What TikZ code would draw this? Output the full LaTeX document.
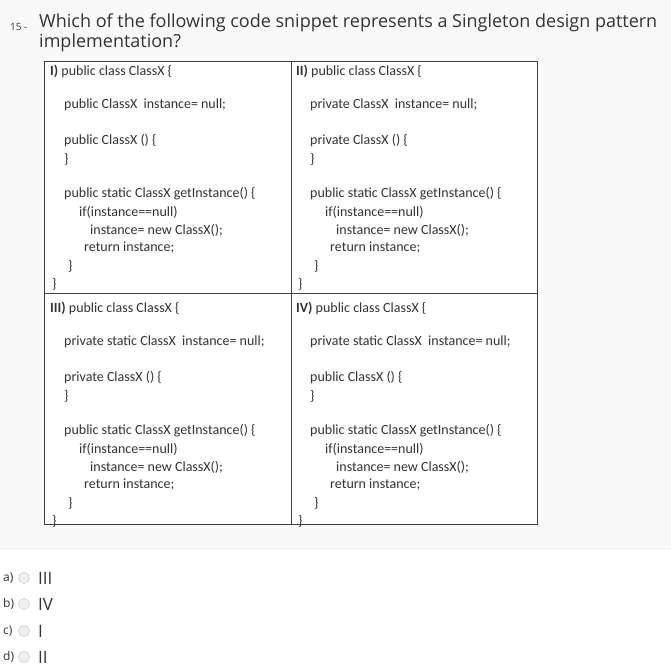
\documentclass[tikz,border=0pt]{standalone}
\usepackage{fontspec}
\setmainfont{Carlito}
\newfontfamily\osans{Open Sans}
\definecolor{bgq}{HTML}{F9F9F9}
\definecolor{txt}{HTML}{333333}
\begin{document}
\begin{tikzpicture}[x=1pt,y=-1pt,
 code/.style={anchor=west,inner sep=0pt,font=\fontsize{14}{14}\selectfont,text=txt},
 opt/.style={anchor=west,inner sep=0pt,font=\osans\fontsize{12}{12}\selectfont,text=txt},
 roman/.style={anchor=west,inner sep=0pt,font=\osans\fontsize{17}{17}\selectfont,text=txt},
 radio/.style={circle,draw=black!25,fill=black!6,minimum size=11pt,inner sep=0pt}]
\useasboundingbox (0,0) rectangle (671,669);
\fill[white] (0,0) rectangle (671,669);
\fill[bgq] (0,0) rectangle (671,548);
\draw[black!8] (0,548) -- (671,548);
\fill[white] (44,61) rectangle (537,524);
\draw[black!75,line width=0.8pt] (44,61) rectangle (537,524) (291,61) -- (291,524) (44,293) -- (537,293);
\node[anchor=west,inner sep=0pt,font=\osans\fontsize{10}{10}\selectfont,text=txt] (num) at (10,27) {15 -};
\node[anchor=north west,inner sep=0pt,align=left,font=\osans\fontsize{18}{19.5}\selectfont,text=txt] (q) at (39,14) {Which of the following code snippet represents a Singleton design pattern\\implementation?};
\foreach \dx/\dy/\lab/\mod/\stat/\cons in {0/0/I/public/{}/public, 246/0/II/private/{}/private, 0/237/III/private/{static }/private, 246/237/IV/private/{static }/public}{
 \begin{scope}[shift={(\dx,\dy)}]
 \node[code] at (50,71) {\textbf{\lab)} public class ClassX \{};
 \node[code] at (64,105) {\mod\ \stat ClassX\ \ instance= null;};
 \node[code] at (64,141) {\cons\ ClassX () \{};
 \node[code] at (64,159) {\}};
 \node[code] at (64,194) {public static ClassX getInstance() \{};
 \node[code] at (79,212) {if(instance==null)};
 \node[code] at (90,230) {instance= new ClassX();};
 \node[code] at (84,248) {return instance;};
 \node[code] at (68,266) {\}};
 \node[code] at (52,284) {\}};
 \end{scope}
}
\foreach \y/\l/\r [count=\i] in {578/a/III,604/b/IV,631/c/I,657/d/II}{
 \node[opt] (o\i) at (3,\y) {\l)};
 \node[radio] (r\i) at (24,\y) {};
 \node[roman] (v\i) at (38,\y) {\r};
}
\end{tikzpicture}
\end{document}
